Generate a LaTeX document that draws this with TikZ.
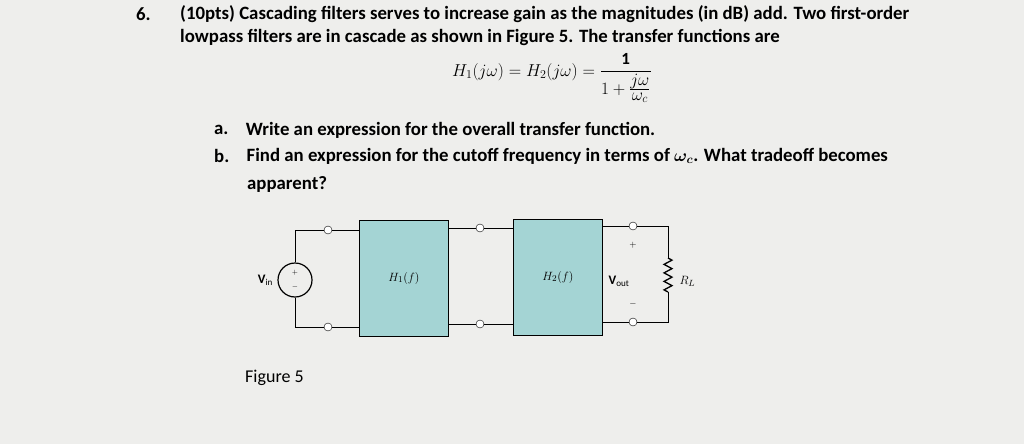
\documentclass[tikz,border=0pt]{standalone}
\usepackage{amsmath}
\usepackage{fontspec}
\setmainfont{Carlito}
\usepackage{tikz}
\usetikzlibrary{positioning,calc,decorations.pathmorphing}
\definecolor{PaperGray}{RGB}{238,238,236}
\definecolor{FilterTeal}{RGB}{164,212,212}
\tikzset{
	qtext/.style={anchor=west, font=\fontsize{18.8}{22}\selectfont\bfseries, inner sep=0pt},
	filterbox/.style={draw, fill=FilterTeal, minimum width=89pt, minimum height=116pt, inner sep=0pt, font=\fontsize{13}{15}\selectfont},
	terminal/.style={circle, draw, fill=white, minimum size=8pt, inner sep=0pt},
	wire/.style={line width=0.9pt},
	lbl/.style={font=\fontsize{13}{15}\selectfont},
}
\begin{document}
\begin{tikzpicture}[x=1pt,y=-1pt]
	\fill[PaperGray] (0,0) rectangle (1024,444);
	\useasboundingbox (0,0) rectangle (1024,444);

	% question text
	\node[qtext] (num) at (136,14) {6.};
	\node[qtext] (l1) at (180,14) {(10pts) Cascading filters serves to increase gain as the magnitudes (in dB) add. Two first-order};
	\node[qtext] (l2) at (180,37) {lowpass filters are in cascade as shown in Figure 5. The transfer functions are};
	\node[anchor=west, inner sep=0pt, font=\fontsize{17}{20}\selectfont] (eq) at (452,78) {$H_1(j\omega)=H_2(j\omega)=\dfrac{\mathbf{1}}{1+\frac{\displaystyle j\omega}{\displaystyle \omega_c}}$};
	\node[qtext] (qa) at (214,130) {a.};
	\node[qtext, right=17pt of qa.east, anchor=west] (ta) {Write an expression for the overall transfer function.};
	\node[qtext] (qb) at (214,156) {b.};
	\node[qtext, right=17pt of qb.east, anchor=west] (tb) {Find an expression for the cutoff frequency in terms of $\boldsymbol{\omega_c}$. What tradeoff becomes};
	\node[qtext] (tc) at (247,184) {apparent?};

	% circuit
	\node[circle, draw, line width=1.2pt, minimum size=34pt, inner sep=0pt] (src) at (295,280) {};
	\node[font=\scriptsize] at ($(src)+(0,-7)$) {$+$};
	\node[font=\scriptsize] at ($(src)+(0,7)$) {$-$};
	\node[left=1pt of src, lbl] (vin) {$\mathbf{V}_{\mathrm{in}}$};

	\node[filterbox] (h1) at (404,278) {$H_1(f)$};
	\node[filterbox] (h2) at (558,277) {$H_2(f)$};

	\node[terminal] (t1) at (328,230) {};
	\node[terminal] (b1) at (328,327) {};
	\node[terminal] (t2) at (480,228) {};
	\node[terminal] (b2) at (480,324) {};
	\node[terminal] (t3) at (633,226) {};
	\node[terminal] (b3) at (633,322) {};

	\coordinate (rtop) at (668,226);
	\coordinate (rbot) at (668,322);

	\draw[wire] (src.north) |- (t1) -- (t1 -| h1.west);
	\draw[wire] (src.south) |- (b1) -- (b1 -| h1.west);
	\draw[wire] (t2 -| h1.east) -- (t2) -- (t2 -| h2.west);
	\draw[wire] (b2 -| h1.east) -- (b2) -- (b2 -| h2.west);
	\draw[wire] (t3 -| h2.east) -- (t3) -- (rtop) -- (668,258);
	\draw[wire] (b3 -| h2.east) -- (b3) -- (rbot) -- (668,292);
	\draw[wire, line width=1.3pt, decorate, decoration={zigzag, segment length=8.5pt, amplitude=4pt}] (668,258) -- (668,292);

	\node[font=\small] (plus) at (633,245) {$+$};
	\node[font=\small] (minus) at (633,304) {$-$};
	\node[lbl] (vout) at (619,281) {$\mathbf{V}_{\mathrm{out}}$};
	\node[lbl, right=8pt of rtop |- vout] (rl) {$R_L$};

	\node[anchor=west, inner sep=0pt, font=\fontsize{18}{21}\selectfont] (fig) at (245,378) {Figure 5};
\end{tikzpicture}
\end{document}
